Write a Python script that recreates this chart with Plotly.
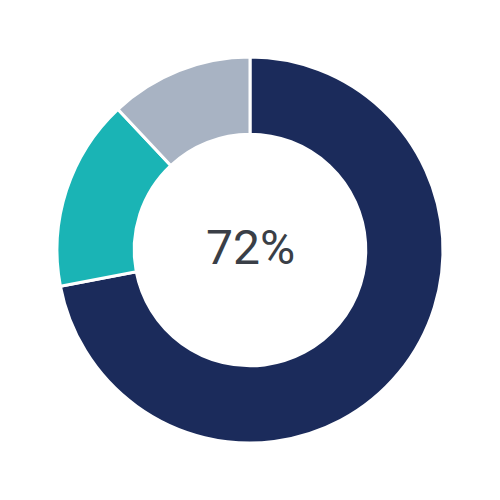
import plotly.graph_objects as go

labels = ["Primary", "Secondary", "Other"]
values = [72, 16, 12]
colors = ["#1b2b5b", "#1ab4b5", "#a8b3c3"]
center_label = "72%"

fig = go.Figure(
    go.Pie(
        labels=labels,
        values=values,
        hole=0.6,
        sort=False,
        direction="clockwise",
        rotation=0,
        marker=dict(colors=colors, line=dict(color="white", width=3)),
        textinfo="none",
        hoverinfo="label+percent",
        showlegend=False,
    )
)

fig.update_layout(
    width=500,
    height=500,
    margin=dict(l=57, r=57, t=57, b=57),
    paper_bgcolor="white",
    plot_bgcolor="white",
    annotations=[
        dict(
            text=center_label,
            x=0.5,
            y=0.5,
            xref="paper",
            yref="paper",
            yshift=3,
            showarrow=False,
            font=dict(family="Roboto", size=48, color="#3a3f47"),
        )
    ],
)

# drop the default page margin so the figure sits flush in the window
fig.write_html(
    "out.html",
    config={"displayModeBar": False},
    post_script="document.body.style.margin = '0';",
)
